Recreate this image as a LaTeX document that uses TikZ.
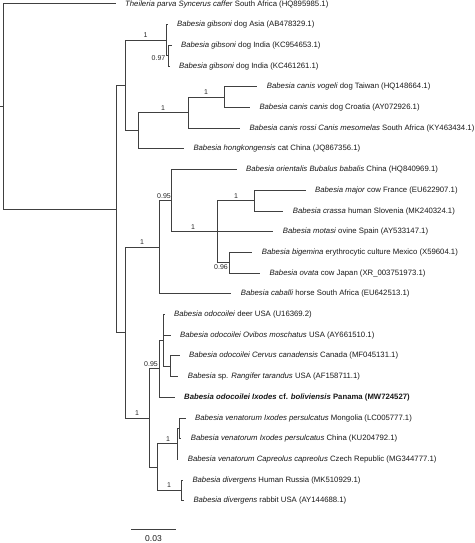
\documentclass[tikz,border=0pt]{standalone}
\usepackage{fontspec}
\setmainfont{Liberation Sans}
\usepackage{tikz}
\usetikzlibrary{positioning}

\begin{document}
\begin{tikzpicture}[x=1pt,y=-1pt,
branch/.style={draw=black!75,line width=1pt},
leaf/.style={anchor=west,inner xsep=9.5pt,inner ysep=0pt,font=\fontsize{7.75}{9}\selectfont,text=black!90},
supp/.style={inner sep=0pt,font=\fontsize{7}{8}\selectfont,text=black!85},
scalelab/.style={inner sep=0pt,font=\fontsize{8.5}{10}\selectfont,text=black!90}]
\useasboundingbox (0,0) rectangle (474,543);
\coordinate (stem) at (0,106.5);
\coordinate (root) at (3,106.5);
\coordinate (ing) at (116,209);
\coordinate (cA) at (125,85.5);
\coordinate (gib) at (166,40.2);
\coordinate (gib2) at (168,55.75);
\coordinate (canH) at (138,130.8);
\coordinate (can) at (188,112.7);
\coordinate (canV) at (224,97.15);
\coordinate (cB) at (125,332.6);
\coordinate (bov) at (159,247.2);
\coordinate (bov1) at (171,200.65);
\coordinate (bov2) at (217,231.7);
\coordinate (majc) at (254,200.65);
\coordinate (bigo) at (229,262.75);
\coordinate (odv) at (149,418);
\coordinate (odo) at (159,368.85);
\coordinate (odo2) at (163,340.4);
\coordinate (cerv) at (170,366.25);
\coordinate (vend) at (157,467.2);
\coordinate (ven) at (177,443.9);
\coordinate (ven2) at (179,428.35);
\coordinate (div) at (181,490.45);
\node[leaf] (thei) at (115.5,4) {\textit{Theileria parva Syncerus caffer} South Africa (HQ895985.1)};
\node[leaf] (gibA) at (167.5,24.7) {\textit{Babesia gibsoni} dog Asia (AB478329.1)};
\node[leaf] (gibB) at (171.5,45.4) {\textit{Babesia gibsoni} dog India (KC954653.1)};
\node[leaf] (gibC) at (169.5,66.1) {\textit{Babesia gibsoni} dog India (KC461261.1)};
\node[leaf] (vog) at (257.2,86.8) {\textit{Babesia canis vogeli} dog Taiwan (HQ148664.1)};
\node[leaf] (canc) at (249.8,107.5) {\textit{Babesia canis canis} dog Croatia (AY072926.1)};
\node[leaf] (ross) at (239.8,128.2) {\textit{Babesia canis rossi Canis mesomelas} South Africa (KY463434.1)};
\node[leaf] (hong) at (183.8,148.9) {\textit{Babesia hongkongensis} cat China (JQ867356.1)};
\node[leaf] (ori) at (236.5,169.6) {\textit{Babesia orientalis Bubalus babalis} China (HQ840969.1)};
\node[leaf] (maj) at (305.5,190.3) {\textit{Babesia major} cow France (EU622907.1)};
\node[leaf] (cra) at (283.2,211) {\textit{Babesia crassa} human Slovenia (MK240324.1)};
\node[leaf] (mot) at (273.2,231.7) {\textit{Babesia motasi} ovine Spain (AY533147.1)};
\node[leaf] (big) at (252.2,252.4) {\textit{Babesia bigemina} erythrocytic culture Mexico (X59604.1)};
\node[leaf] (ova) at (259.8,273.1) {\textit{Babesia ovata} cow Japan (XR\_003751973.1)};
\node[leaf] (cab) at (231.2,293.8) {\textit{Babesia caballi} horse South Africa (EU642513.1)};
\node[leaf] (odeer) at (164.5,314.5) {\textit{Babesia odocoilei} deer USA (U16369.2)};
\node[leaf] (oovi) at (170.5,335.2) {\textit{Babesia odocoilei Ovibos moschatus} USA (AY661510.1)};
\node[leaf] (ocer) at (179.5,355.9) {\textit{Babesia odocoilei Cervus canadensis} Canada (MF045131.1)};
\node[leaf] (oran) at (178.2,376.6) {\textit{Babesia} sp. \textit{Rangifer tarandus} USA (AF158711.1)};
\node[leaf] (opan) at (174.5,397.3) {\textbf{\textit{Babesia odocoilei Ixodes} cf. \textit{boliviensis} Panama (MW724527)}};
\node[leaf] (vmon) at (185.5,418) {\textit{Babesia venatorum Ixodes persulcatus} Mongolia (LC005777.1)};
\node[leaf] (vchi) at (181.2,438.7) {\textit{Babesia venatorum Ixodes persulcatus} China (KU204792.1)};
\node[leaf] (vcze) at (178.2,459.4) {\textit{Babesia venatorum Capreolus capreolus} Czech Republic (MG344777.1)};
\node[leaf] (dhum) at (182.8,480.1) {\textit{Babesia divergens} Human Russia (MK510929.1)};
\node[leaf] (drab) at (183.8,500.8) {\textit{Babesia divergens} rabbit USA (AY144688.1)};
\draw[branch] (stem) -- (root);
\draw[branch] (root) |- (thei.west); \draw[branch] (root) |- (ing);
\draw[branch] (ing) |- (cA); \draw[branch] (ing) |- (cB);
\draw[branch] (cA) |- (gib); \draw[branch] (cA) |- (canH);
\draw[branch] (gib) |- (gibA.west); \draw[branch] (gib) |- (gib2);
\draw[branch] (gib2) |- (gibB.west); \draw[branch] (gib2) |- (gibC.west);
\draw[branch] (canH) |- (can); \draw[branch] (canH) |- (hong.west);
\draw[branch] (can) |- (canV); \draw[branch] (can) |- (ross.west);
\draw[branch] (canV) |- (vog.west); \draw[branch] (canV) |- (canc.west);
\draw[branch] (cB) |- (bov); \draw[branch] (cB) |- (odv);
\draw[branch] (bov) |- (bov1); \draw[branch] (bov) |- (cab.west);
\draw[branch] (bov1) |- (ori.west); \draw[branch] (bov1) |- (bov2);
\draw[branch] (bov2) |- (majc); \draw[branch] (bov2) |- (mot.west); \draw[branch] (bov2) |- (bigo);
\draw[branch] (majc) |- (maj.west); \draw[branch] (majc) |- (cra.west);
\draw[branch] (bigo) |- (big.west); \draw[branch] (bigo) |- (ova.west);
\draw[branch] (odv) |- (odo); \draw[branch] (odv) |- (vend);
\draw[branch] (odo) |- (odo2); \draw[branch] (odo) |- (opan.west);
\draw[branch] (odo2) |- (odeer.west); \draw[branch] (odo2) |- (oovi.west); \draw[branch] (odo2) |- (cerv);
\draw[branch] (cerv) |- (ocer.west); \draw[branch] (cerv) |- (oran.west);
\draw[branch] (vend) |- (ven); \draw[branch] (vend) |- (div);
\draw[branch] (ven) |- (ven2); \draw[branch] (ven) |- (vcze.west);
\draw[branch] (ven2) |- (vmon.west); \draw[branch] (ven2) |- (vchi.west);
\draw[branch] (div) |- (dhum.west); \draw[branch] (div) |- (drab.west);
\node[supp] (sgib) at (145.5,35.2) {1};
\node[supp,anchor=east] (sgib2) at (165.5,58) {0.97};
\node[supp] (scan) at (163,107.7) {1};
\node[supp] (scanV) at (206,92.5) {1};
\node[supp] (sbov) at (142,242.2) {1};
\node[supp] (sbov1) at (164,195.6) {0.95};
\node[supp] (sbov2) at (193,226.7) {1};
\node[supp] (smajc) at (236,195.6) {1};
\node[supp] (sbigo) at (221,267) {0.96};
\node[supp] (sodv) at (137,413) {1};
\node[supp] (sodo) at (151,364) {0.95};
\node[supp] (sven) at (168,438.9) {1};
\node[supp] (sdiv) at (169,485.5) {1};
\coordinate (sbL) at (131,529);
\coordinate (sbR) at (176,529);
\draw[branch] (sbL) -- (sbR);
\node[scalelab] (sblab) at (153.5,539) {0.03};
\end{tikzpicture}
\end{document}
